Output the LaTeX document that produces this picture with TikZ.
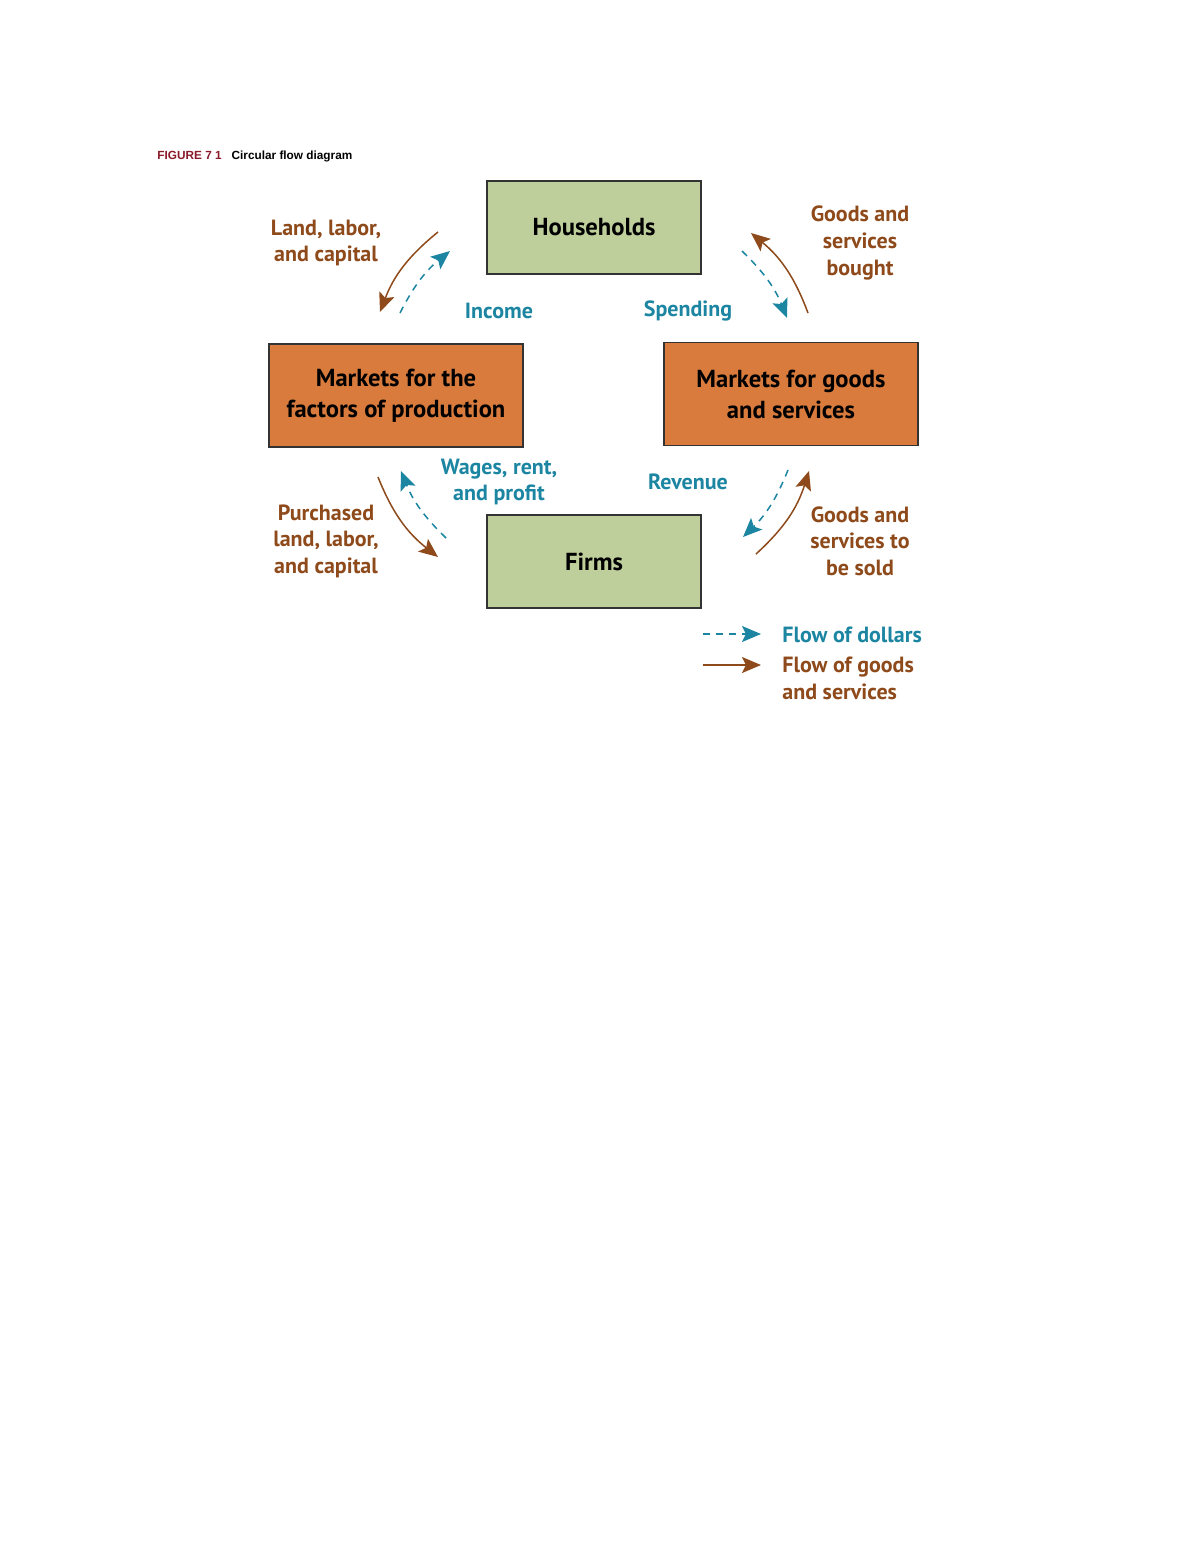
\documentclass[tikz,border=0pt]{standalone}
\usepackage{fontspec}
\setmainfont{PT Sans}
\setsansfont{PT Sans}
\newfontfamily\titlefont{Liberation Sans}
\usetikzlibrary{arrows.meta}
\definecolor{brn}{HTML}{8E4A1A}
\definecolor{tealc}{HTML}{1C86A2}
\definecolor{grn}{HTML}{BFCF9C}
\definecolor{org}{HTML}{D87B3D}
\definecolor{figred}{HTML}{8B1A2B}
\tikzset{
  box/.style={draw=black!80, line width=0.6pt, font=\bfseries\fontsize{12.3}{15.5}\selectfont, align=center, inner sep=0pt},
  hbox/.style={box, fill=grn, minimum width=107pt, minimum height=46.5pt},
  mbox/.style={box, fill=org, minimum width=127pt, minimum height=51.5pt},
  blab/.style={text=brn, font=\bfseries\fontsize{11}{13.3}\selectfont, align=center, inner sep=0pt},
  tlab/.style={text=tealc, font=\bfseries\fontsize{11}{13.3}\selectfont, align=center, inner sep=0pt},
  goods/.style={draw=brn, line width=0.75pt, -{Stealth[length=9.5pt,width=8pt,inset=2pt]}},
  dollars/.style={draw=tealc, line width=0.75pt, dash pattern=on 3.5pt off 3pt, -{Stealth[length=9.5pt,width=8pt,inset=2pt]}},
}
\begin{document}
\begin{tikzpicture}[x=0.5pt,y=-0.5pt]
\useasboundingbox (0,0) rectangle (1200,1553);
\fill[white] (0,0) rectangle (1200,1553);
% title
\node[anchor=west, inner sep=0pt, font=\titlefont\bfseries\fontsize{5.9}{6}\selectfont] (title) at (157,156) {\textcolor{figred}{FIGURE 7 1}\hspace{5pt}Circular flow diagram};
% boxes
\node[hbox] (hh) at (594,227.5) {Households};
\node[hbox] (firms) at (594,561.5) {Firms};
\node[mbox] (mf) at (396,395.5) {Markets for the\\factors of production};
\node[mbox] (mg) at (791,394) {Markets for goods\\and services};
% labels
\node[blab] (l1) at (326,243) {Land, labor,\\and capital};
\node[tlab] (l2) at (499,311) {Income};
\node[tlab] (l3) at (688,311) {Spending};
\node[blab] (l4) at (860,243) {Goods and\\services\\bought};
\node[tlab] (l5) at (499,482) {Wages, rent,\\and profit};
\node[tlab] (l6) at (688,482) {Revenue};
\node[blab] (l7) at (326,541) {Purchased\\land, labor,\\and capital};
\node[blab] (l8) at (860,541) {Goods and\\services to\\be sold};
% arrow endpoints
\coordinate (a1s) at (438,232); \coordinate (a1e) at (380,312);
\coordinate (a2s) at (400,313); \coordinate (a2e) at (450,251);
\coordinate (a3s) at (742,251); \coordinate (a3e) at (787,318);
\coordinate (a4s) at (808,313); \coordinate (a4e) at (751,233);
\coordinate (a5s) at (446,538); \coordinate (a5e) at (401,471);
\coordinate (a6s) at (378,477); \coordinate (a6e) at (438,557);
\coordinate (a7s) at (788,470); \coordinate (a7e) at (743,537);
\coordinate (a8s) at (756,554); \coordinate (a8e) at (809,471);
\draw[goods] (a1s) to[bend right=15] (a1e);
\draw[dollars] (a2s) to[bend left=12] (a2e);
\draw[dollars] (a3s) to[bend left=12] (a3e);
\draw[goods] (a4s) to[bend right=15] (a4e);
\draw[dollars] (a5s) to[bend left=12] (a5e);
\draw[goods] (a6s) to[bend right=15] (a6e);
\draw[dollars] (a7s) to[bend left=12] (a7e);
\draw[goods] (a8s) to[bend right=15] (a8e);
% legend
\coordinate (ld1) at (703,634); \coordinate (ld2) at (761,634);
\coordinate (lg1) at (703,665); \coordinate (lg2) at (761,665);
\draw[dollars] (ld1) -- (ld2);
\draw[goods] (lg1) -- (lg2);
\node[tlab, anchor=west] (leg1) at (782,635) {Flow of dollars};
\node[blab, anchor=north west, align=left] (leg2) at (782,657) {Flow of goods\\and services};
\end{tikzpicture}
\end{document}
